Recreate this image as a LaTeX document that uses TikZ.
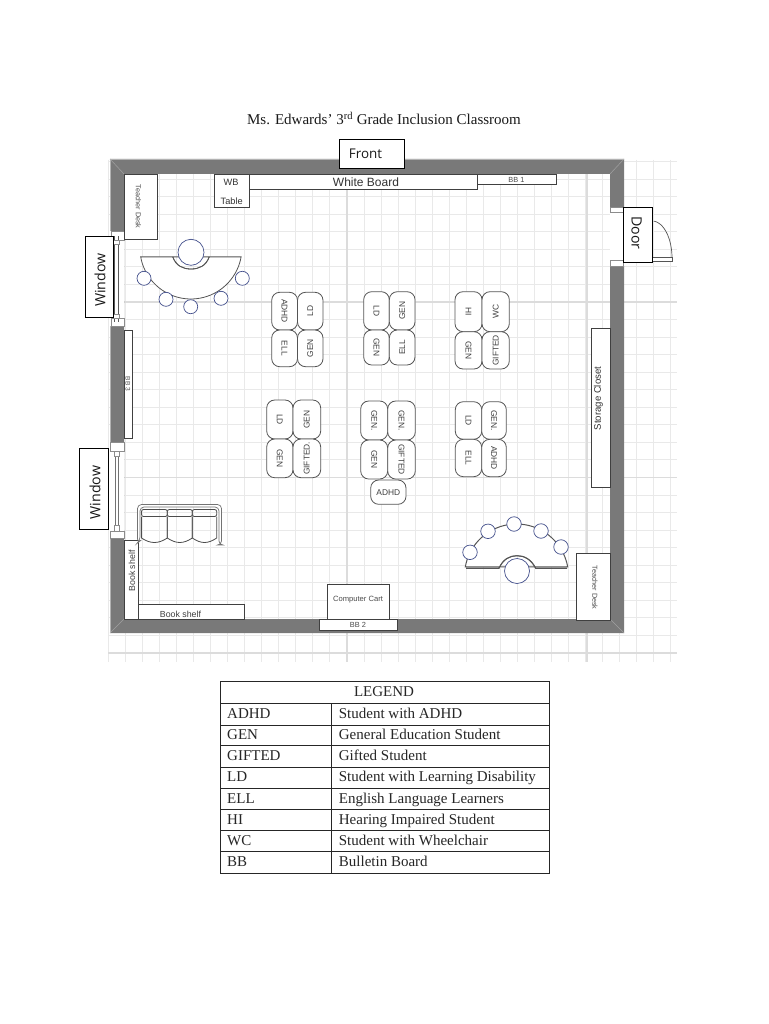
\documentclass[tikz,border=0pt]{standalone}
\usepackage{fontspec}
\setmainfont{Liberation Serif}
\setsansfont{Liberation Sans}
\newfontfamily\labelfont{Open Sans}
\newcommand{\fs}[1]{\fontsize{#1}{#1}\selectfont}
\definecolor{wallgray}{HTML}{797979}
\definecolor{gridlight}{HTML}{E9E9E9}
\definecolor{gridmajor}{HTML}{DCDCDC}
\definecolor{stoolblue}{HTML}{44508C}
\definecolor{linegray}{HTML}{555555}
\tikzset{
  gridline/.style={gridlight,line width=1pt},
  gridstrong/.style={gridmajor,line width=1.2pt},
  furn/.style={draw=black!75,line width=0.9pt,fill=white},
  desk/.style={draw=linegray,line width=0.8pt,fill=white,rounded corners=8pt},
  stool/.style={draw=stoolblue,line width=0.7pt,fill=white},
  tinytext/.style={font=\sffamily\fs{7.4},text=black!70,inner sep=0pt},
  desktext/.style={font=\sffamily\fs{8.4},text=black!75,inner sep=0pt},
  bigbox/.style={draw=black,line width=0.9pt,fill=white},
  bigtext/.style={font=\labelfont\fs{14.2},text=black!90,inner sep=0pt},
  tablecurve/.style={draw=linegray,line width=0.8pt,fill=white},
  legendtext/.style={font=\fs{15},text=black!85,anchor=base west,inner sep=0pt},
  legendrule/.style={black!85,line width=0.9pt},
  frameopen/.style={fill=white,draw=black!45,line width=0.6pt},
}
\newcommand{\deskcell}[7]{%
  \draw[desk] (#1,#2) rectangle (#3,#4);
  \node[desktext,rotate=#5] (#6) at ({(#1+#3)/2},{(#2+#4)/2}) {#7};}
\newcommand{\boxat}[5]{% x0 y0 x1 y1 name
  \draw[furn] (#1,#2) rectangle (#3,#4);
  \coordinate (#5) at ({(#1+#3)/2},{(#2+#4)/2});}
\begin{document}
\begin{tikzpicture}[x=1pt,y=-1pt]
\useasboundingbox (0,0) rectangle (768,1024);
\fill[white] (0,0) rectangle (768,1024);
% grid
\foreach \k in {-14,...,19}{\draw[gridline] ({347+17.05*\k},160) -- ({347+17.05*\k},662);}
\foreach \k in {0,...,28}{\draw[gridline] (108,{653-17.55*\k}) -- (677,{653-17.55*\k});}
\foreach \k in {0,10,20}{\draw[gridstrong] (108,{653-17.55*\k}) -- (677,{653-17.55*\k});}
\foreach \xx in {347,587}{\draw[gridstrong] (\xx,160) -- (\xx,662);}
% walls
\fill[wallgray,even odd rule] (110,159) rectangle (624,633) (124,174) rectangle (610,619);
\draw[white!30!wallgray,line width=0.5pt] (110,159) -- (124,174) (624,159) -- (610,174) (110,633) -- (124,619) (624,633) -- (610,619);
\draw[black!30,line width=0.7pt] (110,159) -- (624,159) (110,159) -- (110,633);
% window 1 opening
\fill[white] (109,231) rectangle (124,326);
\draw[frameopen] (111,231) rectangle (124,240);
\draw[frameopen] (111,318) rectangle (124,326);
\draw[black!65,line width=0.7pt] (114,236) -- (114,322) (118,236) -- (118,322);
\draw[frameopen] (113,240) rectangle (119,244);
\draw[frameopen] (113,314) rectangle (119,318);
% window 2 opening
\fill[white] (109,442) rectangle (124,538);
\draw[frameopen] (110,442) rectangle (124,451);
\draw[frameopen] (110,531) rectangle (124,538);
\draw[black!55,line width=0.7pt] (115,451) -- (115,531) (118,451) -- (118,531);
\draw[frameopen] (114,451) rectangle (119,456);
\draw[frameopen] (114,525) rectangle (119,531);
% door opening
\fill[white] (610,207) rectangle (625,266);
\draw[frameopen] (610,207) rectangle (623,212);
\draw[frameopen] (610,260) rectangle (623,266);
\draw[linegray,line width=0.7pt] plot[domain=0:-85,samples=24] ({652+20*cos(\x)},{258+37*sin(\x)});
\draw[fill=white,draw=linegray,line width=0.6pt] (652,257) rectangle (672,261);
% label boxes
\draw[bigbox] (339.5,139) rectangle (404.5,168);
\node[bigtext,font=\labelfont\fs{13.4}] (front) at (365.5,153.5) {Front};
\draw[bigbox] (85.7,236.7) rectangle (113,317);
\node[bigtext,rotate=90] (win1) at (100,280) {Window};
\draw[bigbox] (79.5,448) rectangle (108,529);
\node[bigtext,rotate=90] (win2) at (95,492.5) {Window};
\draw[bigbox] (623,207) rectangle (652,262.5);
\node[bigtext,rotate=-90] (door) at (636.5,233) {Door};
% furniture along the walls
\boxat{124}{174}{157}{239}{tdesk1}
\node[tinytext,rotate=-90,font=\sffamily\fs{7.2}] (tdesk1t) at (138.5,206.5) {Teacher Desk};
\boxat{249}{174}{477}{189.5}{wboard}
\node[inner sep=0pt,font=\sffamily\fs{12},text=black!80] (wboardt) at (366,182) {White Board};
\boxat{214}{174}{249.5}{207.5}{wbt}
\node[inner sep=0pt,font=\sffamily\fs{9.2},text=black!80] (wbtt1) at (231,182.5) {WB};
\node[inner sep=0pt,font=\sffamily\fs{9.2},text=black!80] (wbtt2) at (231.7,201.5) {Table};
\boxat{477}{174}{556}{184.5}{bb1}
\node[tinytext] (bb1t) at (516.5,179.5) {BB 1};
\boxat{124}{330}{132}{438}{bb3}
\node[tinytext,rotate=-90,font=\sffamily\fs{6.6}] (bb3t) at (128,384) {BB 3};
\boxat{591}{328}{610}{487.5}{closet}
\node[inner sep=0pt,rotate=90,font=\sffamily\fs{9.6},text=black!80] (closett) at (598.5,398.5) {Storage Closet};
\boxat{124}{540}{138}{619}{shelf1}
\node[inner sep=0pt,rotate=90,font=\sffamily\fs{8.8},text=black!75] (shelf1t) at (132,571) {Book shelf};
\boxat{138}{604}{244.5}{619}{shelf2}
\node[inner sep=0pt,font=\sffamily\fs{8.8},text=black!75] (shelf2t) at (180.5,614) {Book shelf};
\boxat{327}{584.5}{389}{619}{cart}
\node[tinytext,font=\sffamily\fs{7.6}] (cartt) at (358,599.5) {Computer Cart};
\boxat{319}{619}{397}{630.5}{bb2}
\node[tinytext] (bb2t) at (358,625) {BB 2};
\boxat{576}{553}{610}{620}{tdesk2}
\node[tinytext,rotate=-90,font=\sffamily\fs{7.2}] (tdesk2t) at (595,587.5) {Teacher Desk};
% sofa
\draw[black!55,line width=0.7pt,fill=white,rounded corners=4pt] (137.5,543) -- (137.5,504.5) -- (221.5,504.5) -- (221.5,545) -- (219,545) -- (219,507) -- (140,507) -- (140,541) -- cycle;
\foreach \a/\b in {141.5/167.3,167.3/192.3,192.3/216.7}{
  \draw[black!70,line width=0.8pt,rounded corners=2pt] (\a,516.5) -- (\a,509.5) -- (\b,509.5) -- (\b,516.5) -- cycle;
  \draw[black!70,line width=0.8pt] (\a,516.5) -- (\a,538) .. controls ({\a+9},544) and ({\b-9},544) .. (\b,538) -- (\b,516.5);
}
% reading table 1
\draw[tablecurve] (140.6,256.7) -- (172.7,256.7) .. controls (176,266) and (183,269) .. (191,269) .. controls (199,269) and (206,266) .. (209.3,256.7) -- (241.4,256.7)
  plot[domain=10:170,samples=40] ({190.9+51*cos(\x)},{248+51*sin(\x)}) -- cycle;
\node[stool,circle,minimum size=26pt,inner sep=0pt] (chair1) at (191,252.3) {};
\draw[linegray,line width=0.8pt] (172.7,256.7) .. controls (176,266) and (183,269) .. (191,269) .. controls (199,269) and (206,266) .. (209.3,256.7);
\foreach \n/\cx/\cy in {a/144/278.3,b/166/299.3,c/190.7/306.7,d/221/298.3,e/242.3/278.3}{
  \node[stool,circle,minimum size=14pt,inner sep=0pt] (stool\n) at (\cx,\cy) {};}
% reading table 2
\draw[tablecurve,line width=1pt] (466,568.3) -- (499,568.3) .. controls (503,559) and (510,555.7) .. (517,555.7) .. controls (524,555.7) and (531,559) .. (535.7,568.3) -- (567,568.3)
  plot[domain=-10:-170,samples=40] ({516.5+52*cos(\x)},{576+52*sin(\x)}) -- cycle;
\node[stool,circle,minimum size=25pt,inner sep=0pt] (chair2) at (517,571) {};
\draw[linegray,line width=0.9pt] (499,568.3) .. controls (503,559) and (510,555.7) .. (517,555.7) .. controls (524,555.7) and (531,559) .. (535.7,568.3);
\foreach \n/\cx/\cy in {f/470/552.3,g/488/531.3,h/514/524,i/541/531,j/561/547}{
  \node[stool,circle,minimum size=14.5pt,inner sep=0pt] (stool\n) at (\cx,\cy) {};}
% desk group 1
\deskcell{271.7}{292.3}{297.5}{330}{-90}{d1a}{ADHD}
\deskcell{297.5}{292.3}{323}{330}{90}{d1b}{LD}
\deskcell{271.7}{330}{297.5}{366.7}{-90}{d1c}{ELL}
\deskcell{297.5}{330}{323}{366.7}{90}{d1d}{GEN}
% desk group 2
\deskcell{363.7}{291.7}{389.3}{330}{-90}{d2a}{LD}
\deskcell{389.3}{291.7}{415}{330}{90}{d2b}{GEN}
\deskcell{363.7}{330}{389.3}{365}{-90}{d2c}{GEN}
\deskcell{389.3}{330}{415}{365}{90}{d2d}{ELL}
% desk group 3
\deskcell{455}{291.7}{482}{331.7}{-90}{d3a}{HI}
\deskcell{482}{291.7}{509.3}{331.7}{90}{d3b}{WC}
\deskcell{455}{331.7}{482}{369}{-90}{d3c}{GEN}
\deskcell{482}{331.7}{509.3}{369}{90}{d3d}{GIFTED}
% desk group 4
\deskcell{266.7}{400}{293}{439}{-90}{d4a}{LD}
\deskcell{293}{400}{320.7}{439}{90}{d4b}{GEN}
\deskcell{266.7}{439}{293}{477.7}{-90}{d4c}{GEN}
\deskcell{293}{439}{320.7}{477.7}{90}{d4d}{GIFTED.}
% desk group 5
\deskcell{360.7}{401}{387.7}{440}{-90}{d5a}{GEN.}
\deskcell{387.7}{401}{415.3}{440}{-90}{d5b}{GEN.}
\deskcell{360.7}{440}{387.7}{479}{-90}{d5c}{GEN}
\deskcell{387.7}{440}{415.3}{479}{-90}{d5d}{GIFTED}
\deskcell{370.7}{480}{406}{504.3}{0}{d5e}{ADHD}
% desk group 6
\deskcell{455.3}{401.7}{481.7}{439.3}{-90}{d6a}{LD}
\deskcell{481.7}{401.7}{506.3}{439.3}{-90}{d6b}{GEN.}
\deskcell{455.3}{439.3}{481.7}{476.7}{-90}{d6c}{ELL}
\deskcell{481.7}{439.3}{506.3}{476.7}{-90}{d6d}{ADHD}
% title
\node[inner sep=0pt,font=\fs{15},text=black!90,anchor=base] (title) at (384,125) {Ms. Edwards’ 3\textsuperscript{rd} Grade Inclusion Classroom};
% legend
\draw[legendrule] (220,681.7) rectangle (549,873.3);
\foreach \yy in {703.3,725,745.7,767.3,788.3,809.3,830,851.7}{\draw[legendrule] (220,\yy) -- (549,\yy);}
\draw[legendrule] (331.7,703.3) -- (331.7,873.3);
\node[legendtext,anchor=base] (legendhead) at (384,696) {LEGEND};
\foreach \n/\yy/\l/\r in {1/718/ADHD/Student with ADHD,2/739/GEN/General Education Student,3/760/GIFTED/Gifted Student,4/781.5/LD/Student with Learning Disability,5/803/ELL/English Language Learners,6/824/HI/Hearing Impaired Student,7/845/WC/Student with Wheelchair,8/866/BB/Bulletin Board}{
  \node[legendtext] (lk\n) at (227,\yy) {\l};
  \node[legendtext] (lv\n) at (338.7,\yy) {\r};
}
\end{tikzpicture}
\end{document}
